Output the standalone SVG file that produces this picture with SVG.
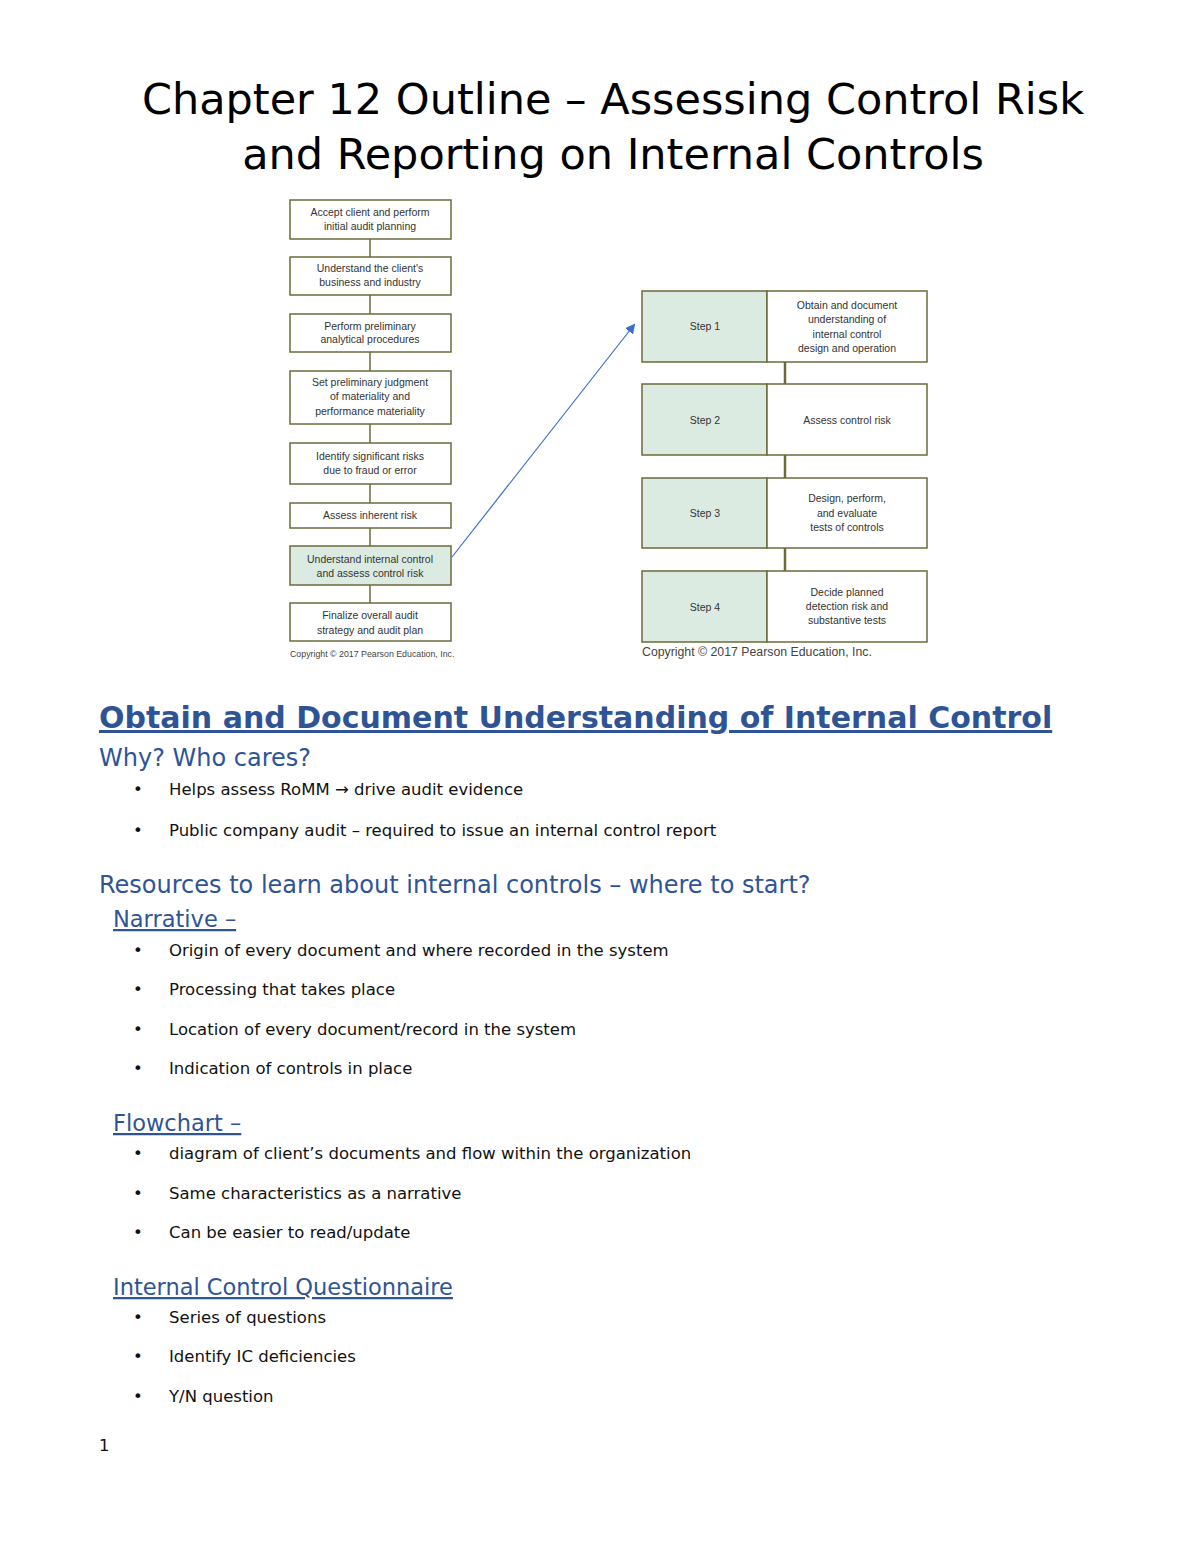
<svg xmlns="http://www.w3.org/2000/svg" width="1200" height="1553" viewBox="0 0 1200 1553">
<style>
.t{font-family:"DejaVu Sans",sans-serif;fill:#000}
.h{font-family:"DejaVu Sans",sans-serif;fill:#2F5496}
.b{font-family:"DejaVu Sans",sans-serif;font-size:16.5px;fill:#111}
.bx{fill:#fff;stroke:#6b6b3a;stroke-width:1.5}
.g{fill:#dcebe2;stroke:#6b6b3a;stroke-width:1.5}
.s{font-family:"Liberation Sans",sans-serif;font-size:10.5px;fill:#333;text-anchor:middle}
.c{stroke:#6b6b3a;stroke-width:1.5}
.c2{stroke:#6b6b3a;stroke-width:2.5}
</style>
<defs><marker id="ah" markerWidth="10" markerHeight="10" refX="8" refY="5" orient="auto" markerUnits="userSpaceOnUse"><path d="M0,0 L10,5 L0,10 z" fill="#3a6fd0"/></marker></defs>
<rect width="1200" height="1553" fill="#fff"/>
<text class="t" x="613" y="114" font-size="43" text-anchor="middle">Chapter 12 Outline – Assessing Control Risk</text>
<text class="t" x="613" y="169" font-size="43" text-anchor="middle">and Reporting on Internal Controls</text>
<g id="connectors">
<line class="c" x1="370" y1="239" x2="370" y2="257"/>
<line class="c" x1="370" y1="295" x2="370" y2="314"/>
<line class="c" x1="370" y1="352" x2="370" y2="371"/>
<line class="c" x1="370" y1="424" x2="370" y2="443"/>
<line class="c" x1="370" y1="484" x2="370" y2="503"/>
<line class="c" x1="370" y1="528" x2="370" y2="546"/>
<line class="c" x1="370" y1="585" x2="370" y2="603"/>
<line class="c2" x1="785" y1="362" x2="785" y2="384"/>
<line class="c2" x1="785" y1="455" x2="785" y2="478"/>
<line class="c2" x1="785" y1="548" x2="785" y2="571"/>
<line x1="452" y1="557" x2="634" y2="325" stroke="#3a6fd0" stroke-width="1.2" marker-end="url(#ah)"/>
</g>
<g id="n1"><rect class="bx" x="290" y="200" width="161" height="39"/><text class="s" x="370" y="216">Accept client and perform</text><text class="s" x="370" y="230">initial audit planning</text></g>
<g id="n2"><rect class="bx" x="290" y="257" width="161" height="38"/><text class="s" x="370" y="272">Understand the client's</text><text class="s" x="370" y="286">business and industry</text></g>
<g id="n3"><rect class="bx" x="290" y="314" width="161" height="38"/><text class="s" x="370" y="330">Perform preliminary</text><text class="s" x="370" y="343">analytical procedures</text></g>
<g id="n4"><rect class="bx" x="290" y="371" width="161" height="53"/><text class="s" x="370" y="386">Set preliminary judgment</text><text class="s" x="370" y="400">of materiality and</text><text class="s" x="370" y="415">performance materiality</text></g>
<g id="n5"><rect class="bx" x="290" y="443" width="161" height="41"/><text class="s" x="370" y="460">Identify significant risks</text><text class="s" x="370" y="474">due to fraud or error</text></g>
<g id="n6"><rect class="bx" x="290" y="503" width="161" height="25"/><text class="s" x="370" y="519">Assess inherent risk</text></g>
<g id="n7"><rect class="g" x="290" y="546" width="161" height="39"/><text class="s" x="370" y="563">Understand internal control</text><text class="s" x="370" y="577">and assess control risk</text></g>
<g id="n8"><rect class="bx" x="290" y="603" width="161" height="38"/><text class="s" x="370" y="619">Finalize overall audit</text><text class="s" x="370" y="634">strategy and audit plan</text></g>
<text x="290" y="657" font-family="Liberation Sans,sans-serif" font-size="8.8" fill="#444">Copyright © 2017 Pearson Education, Inc.</text>
<g id="s1"><rect class="g" x="642" y="291" width="125" height="71"/><rect class="bx" x="767" y="291" width="160" height="71"/><text class="s" x="705" y="330">Step 1</text><text class="s" x="847" y="309">Obtain and document</text><text class="s" x="847" y="323">understanding of</text><text class="s" x="847" y="338">internal control</text><text class="s" x="847" y="352">design and operation</text></g>
<g id="s2"><rect class="g" x="642" y="384" width="125" height="71"/><rect class="bx" x="767" y="384" width="160" height="71"/><text class="s" x="705" y="424">Step 2</text><text class="s" x="847" y="424">Assess control risk</text></g>
<g id="s3"><rect class="g" x="642" y="478" width="125" height="70"/><rect class="bx" x="767" y="478" width="160" height="70"/><text class="s" x="705" y="517">Step 3</text><text class="s" x="847" y="502">Design, perform,</text><text class="s" x="847" y="517">and evaluate</text><text class="s" x="847" y="531">tests of controls</text></g>
<g id="s4"><rect class="g" x="642" y="571" width="125" height="71"/><rect class="bx" x="767" y="571" width="160" height="71"/><text class="s" x="705" y="611">Step 4</text><text class="s" x="847" y="596">Decide planned</text><text class="s" x="847" y="610">detection risk and</text><text class="s" x="847" y="624">substantive tests</text></g>
<text x="642" y="656" font-family="Liberation Sans,sans-serif" font-size="12.3" fill="#444">Copyright © 2017 Pearson Education, Inc.</text>
<text class="h" x="99" y="728" font-size="30" font-weight="bold" text-decoration="underline">Obtain and Document Understanding of Internal Control</text>
<text class="h" x="99" y="766" font-size="24">Why? Who cares?</text>
<g class="b"><text x="133" y="795">•</text><text x="169" y="795">Helps assess RoMM → drive audit evidence</text>
<text x="133" y="836">•</text><text x="169" y="836">Public company audit – required to issue an internal control report</text></g>
<text class="h" x="99" y="893" font-size="24">Resources to learn about internal controls – where to start?</text>
<text class="h" x="113" y="927" font-size="22.5" text-decoration="underline">Narrative – </text>
<g class="b"><text x="133" y="956">•</text><text x="169" y="956">Origin of every document and where recorded in the system</text>
<text x="133" y="995">•</text><text x="169" y="995">Processing that takes place</text>
<text x="133" y="1035">•</text><text x="169" y="1035">Location of every document/record in the system</text>
<text x="133" y="1074">•</text><text x="169" y="1074">Indication of controls in place</text></g>
<text class="h" x="113" y="1131" font-size="22.5" text-decoration="underline">Flowchart – </text>
<g class="b"><text x="133" y="1159">•</text><text x="169" y="1159">diagram of client’s documents and flow within the organization</text>
<text x="133" y="1199">•</text><text x="169" y="1199">Same characteristics as a narrative</text>
<text x="133" y="1238">•</text><text x="169" y="1238">Can be easier to read/update</text></g>
<text class="h" x="113" y="1295" font-size="22.5" text-decoration="underline">Internal Control Questionnaire </text>
<g class="b"><text x="133" y="1323">•</text><text x="169" y="1323">Series of questions</text>
<text x="133" y="1362">•</text><text x="169" y="1362">Identify IC deficiencies</text>
<text x="133" y="1402">•</text><text x="169" y="1402">Y/N question</text></g>
<text class="b" x="99" y="1451">1</text>
</svg>
